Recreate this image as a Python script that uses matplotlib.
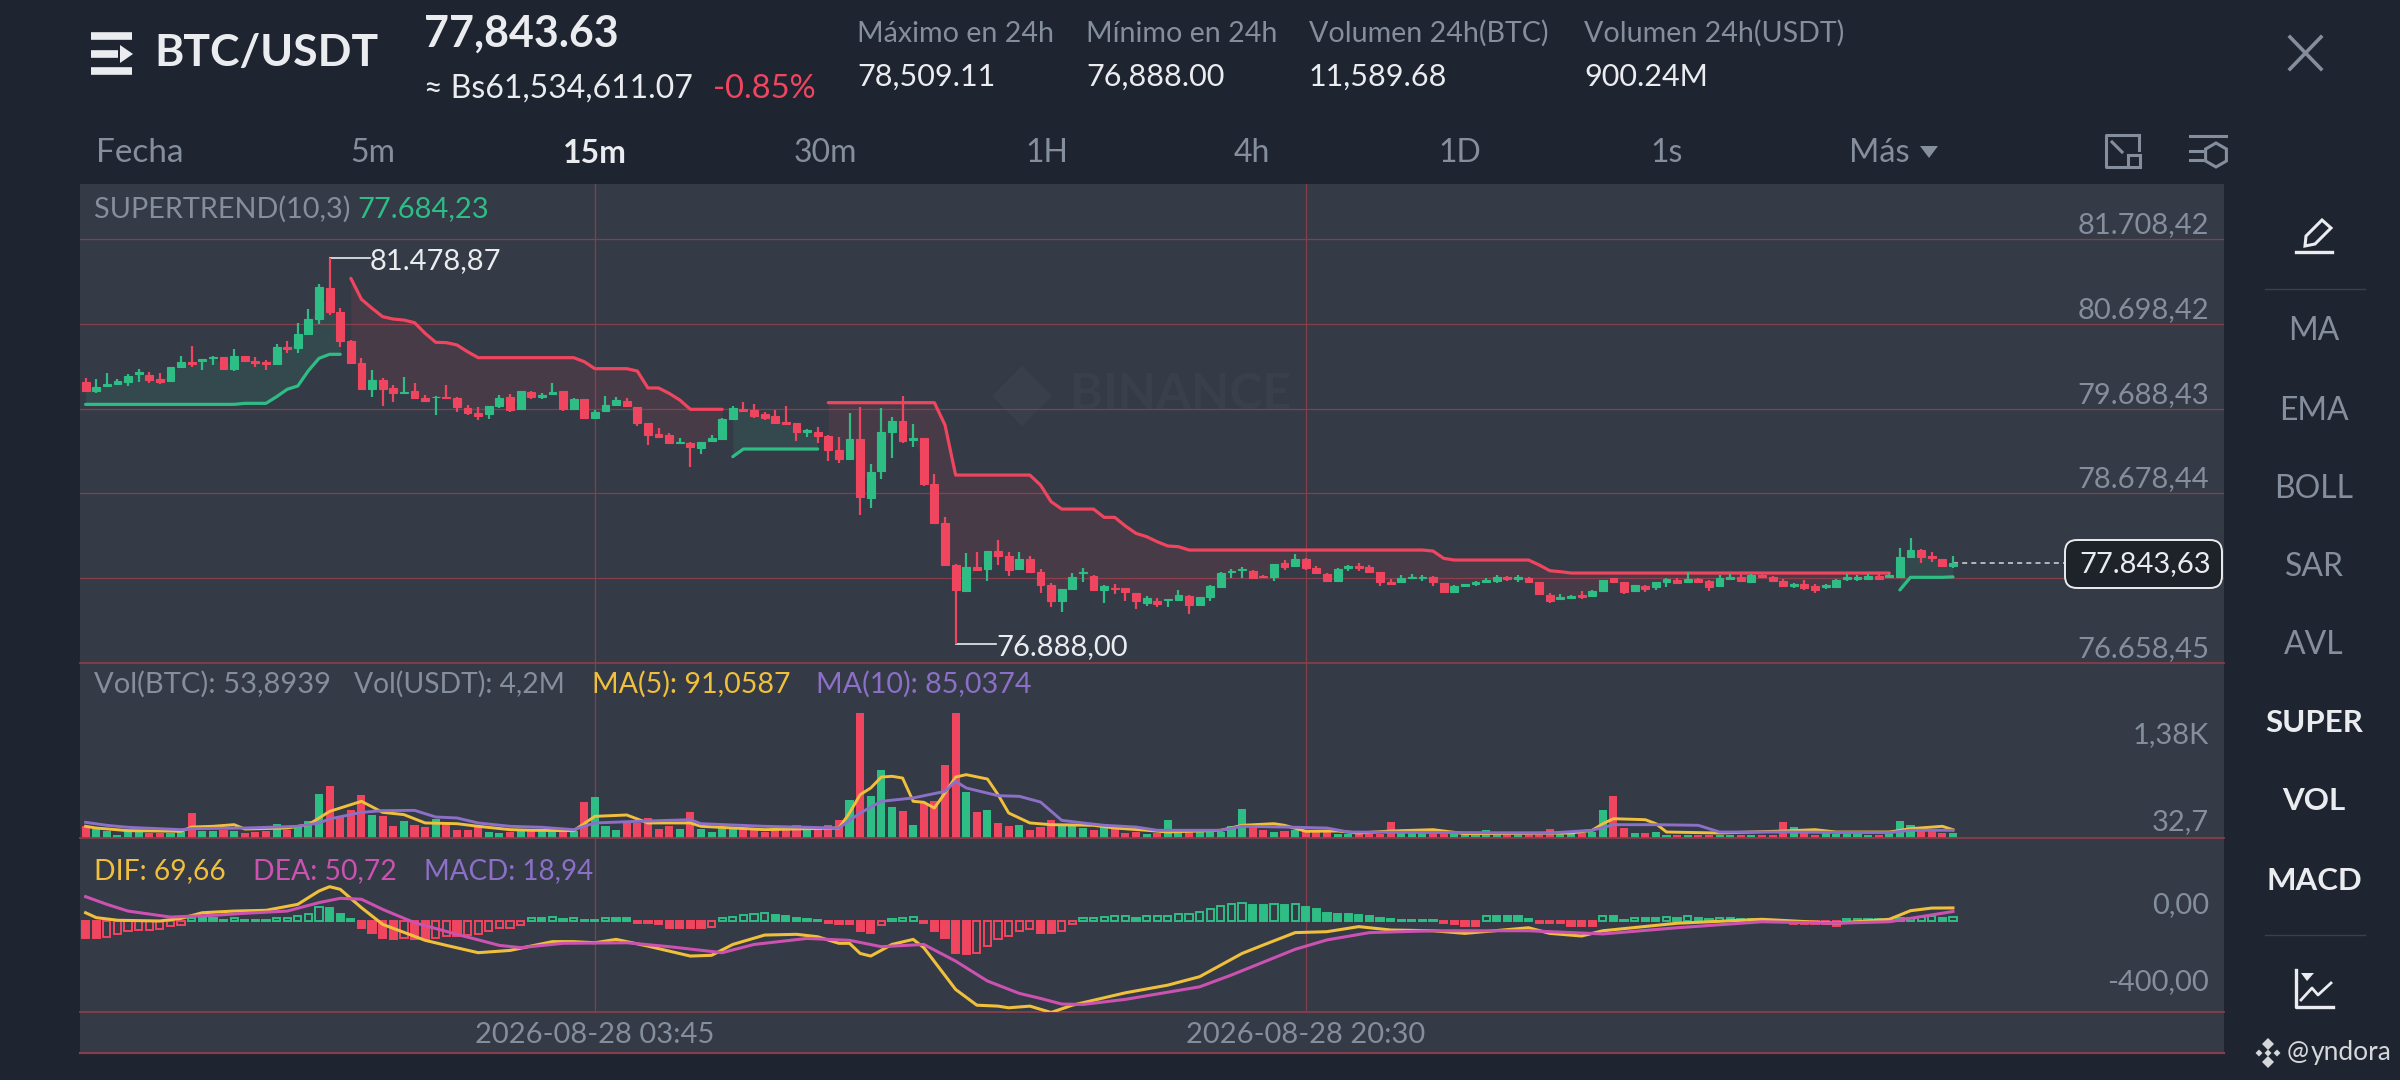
import matplotlib
matplotlib.use("Agg")
import matplotlib.pyplot as plt
from matplotlib.patches import Rectangle, FancyBboxPatch, Polygon, RegularPolygon
import numpy as np

plt.rcParams['font.family'] = ['Lato', 'DejaVu Sans']

# ---------- data ----------
opens = [80009,79902,79958,79981,80009,80100,80089,80041,80013,80184,
80243,80255,80287,80299,80160,80315,80255,80243,80220,80426,
80406,80577,80752,81129,80839,80493,80235,79918,80029,79930,
79870,79898,79811,79823,79830,79811,79692,79632,79620,79719,
79823,79680,79890,79823,79862,79902,79680,79803,79576,79660,
79731,79779,79711,79513,79386,79374,79275,79283,79215,79303,
79326,79565,79684,79672,79624,79600,79533,79513,79414,79414,
79362,79195,79084,79322,78627,78945,79413,79540,79314,79334,
78786,78322,77821,77520,77798,77782,77992,77937,77778,77901,
77738,77587,77401,77544,77726,77694,77528,77555,77547,77496,
77369,77401,77409,77409,77460,77349,77440,77563,77746,77766,
77758,77698,77687,77853,77814,77893,77786,77718,77631,77786,
77818,77798,77738,77627,77619,77671,77675,77679,77615,77508,
77579,77599,77627,77639,77687,77655,77671,77619,77468,77417,
77436,77468,77456,77516,77667,77619,77516,77579,77560,77627,
77647,77627,77659,77639,77576,77663,77687,77627,77707,77687,
77635,77579,77595,77576,77560,77568,77655,77659,77659,77695,
77679,77687,77917,78004,77933,77893,77818]
highs = [80049,80041,80116,80041,80096,80156,80128,80116,80180,80315,
80434,80279,80315,80307,80394,80319,80307,80267,80458,80493,
80704,80871,81172,81478.87,80883,80505,80287,80148,80049,79969,
80061,79989,79850,79838,79969,79830,79731,79711,79723,79850,
79862,79898,79898,79870,79997,79902,79811,79803,79672,79838,
79830,79811,79711,79513,79453,79394,79334,79295,79295,79374,
79572,79719,79763,79743,79652,79672,79723,79521,79441,79465,
79374,79354,79632,79703,79028,79691,79592,79838,79505,79334,
78905,78393,77837,77964,77984,77992,78123,77984,77984,77933,
77778,77615,77544,77726,77786,77706,77587,77595,77555,77496,
77456,77428,77420,77528,77468,77440,77587,77742,77774,77806,
77766,77706,77837,77885,77952,77905,77814,77726,77786,77829,
77845,77825,77738,77659,77706,77714,77706,77694,77615,77587,
77599,77639,77667,77706,77694,77706,77679,77627,77496,77476,
77468,77520,77528,77647,77667,77627,77587,77587,77627,77675,
77667,77746,77667,77647,77707,77714,77714,77714,77714,77695,
77659,77607,77647,77599,77595,77659,77714,77707,77714,77714,
77726,78024,78143,78012,77984,77901,77933]
lows = [79882,79878,79958,79969,79962,80009,79989,79981,80005,80180,
80180,80148,80204,80148,80132,80243,80188,80148,80208,80355,
80347,80565,80696,80803,80426,80228,79910,79823,79719,79771,
79870,79807,79775,79608,79811,79652,79612,79553,79568,79696,
79652,79680,79799,79799,79850,79660,79672,79568,79568,79652,
79723,79711,79481,79255,79334,79267,79267,78997,79148,79295,
79314,79553,79652,79572,79553,79505,79493,79306,79346,79275,
79068,79036,79076,78421,78500,78846,79096,79282,79235,78766,
78310,77814,76888,77508,77758,77639,77825,77694,77774,77734,
77496,77329,77262,77528,77627,77528,77369,77476,77401,77305,
77337,77321,77321,77409,77242,77337,77397,77559,77675,77671,
77663,77667,77631,77766,77806,77766,77726,77623,77623,77758,
77758,77738,77575,77587,77615,77663,77631,77579,77500,77500,
77579,77579,77615,77615,77639,77627,77607,77468,77369,77409,
77424,77424,77440,77508,77615,77476,77508,77500,77528,77560,
77595,77615,77619,77516,77568,77655,77623,77623,77667,77631,
77560,77548,77528,77496,77544,77556,77635,77635,77655,77651,
77667,77687,77917,77853,77857,77798,77794]
closes = [79902,79950,79981,80013,80081,80120,80029,80009,80180,80247,
80216,80279,80299,80156,80319,80255,80235,80220,80426,80394,
80573,80752,81133,80835,80493,80235,79918,80029,79918,79870,
79890,79815,79783,79830,79811,79703,79640,79600,79723,79811,
79672,79898,79830,79850,79882,79680,79799,79576,79652,79731,
79791,79719,79513,79374,79354,79275,79295,79227,79295,79334,
79561,79692,79660,79600,79580,79521,79501,79414,79434,79362,
79195,79084,79322,78631,78937,79406,79540,79302,79334,78786,
78322,77821,77528,77798,77766,77992,77937,77766,77901,77738,
77587,77401,77544,77679,77746,77528,77575,77536,77508,77401,
77428,77357,77420,77468,77349,77440,77575,77734,77758,77782,
77667,77679,77833,77806,77897,77786,77734,77631,77778,77814,
77786,77746,77627,77599,77675,77687,77687,77619,77508,77575,
77599,77627,77647,77687,77655,77687,77619,77480,77401,77448,
77460,77440,77516,77647,77627,77508,77583,77536,77627,77655,
77607,77655,77627,77568,77667,77687,77631,77707,77687,77635,
77576,77599,77548,77528,77587,77647,77683,77679,77691,77659,
77703,77917,78004,77917,77905,77814,77843.63]
supertrend = [79739,79739,79739,79739,79739,79739,79739,79739,79739,79739,
79739,79739,79739,79739,79739,79751,79751,79751,79830,79918,
79958,80140,80287,80335,80335,81240,80990,80883,80783,80755,
80743,80712,80585,80478,80474,80446,80366,80295,80295,80295,
80295,80295,80295,80295,80295,80295,80295,80247,80164,80164,
80164,80164,80136,79934,79934,79870,79791,79680,79680,79680,
79680,79116,79207,79207,79207,79207,79207,79207,79207,79207,
79759,79759,79759,79759,79759,79759,79759,79759,79759,79759,
79759,79493,78897,78897,78897,78897,78897,78897,78897,78897,
78778,78580,78492,78492,78492,78492,78393,78393,78290,78203,
78163,78103,78052,78044,78004,78004,78004,78004,78004,78004,
78004,78004,78004,78004,78004,78004,78004,78004,78004,78004,
78004,78004,78004,78004,78004,78004,78004,77992,77905,77885,
77885,77885,77885,77885,77885,77885,77885,77826,77758,77746,
77730,77730,77730,77730,77730,77730,77730,77730,77730,77730,
77730,77730,77730,77730,77730,77730,77730,77730,77730,77730,
77730,77730,77730,77730,77730,77730,77730,77730,77730,77730,
77730,77528,77679,77679,77679,77679,77684.23]
trend_up_runs = [(0, 24), (61, 69), (171, 176)]
trend_down_runs = [(25, 60), (70, 170)]
volumes = [136,103,81,37,74,66,55,55,55,63,
276,81,81,92,74,55,63,81,155,92,
129,184,482,578,239,313,471,258,239,129,
184,147,118,210,166,85,92,129,66,55,
66,85,74,74,92,110,74,397,449,129,
85,166,166,221,103,136,103,287,103,66,
121,121,99,92,63,85,92,147,92,110,
147,202,423,1380,467,754,346,294,147,386,
405,806,1380,504,287,305,166,129,147,92,
121,202,129,129,114,92,140,110,59,66,
40,55,195,55,77,66,66,66,129,324,
110,85,66,77,85,66,66,66,40,48,
48,48,48,177,66,66,66,66,48,40,
40,48,92,40,40,48,40,48,96,55,
55,55,66,305,464,110,55,55,66,37,
37,37,37,37,37,37,37,37,37,37,
177,121,66,37,55,44,44,44,37,37,
55,191,140,103,81,59,53.89]
ma5_idx = [0,1,4,9,10,12,14,15,19,21,23,24,26,28,30,32,35,37,40,42,46,48,51,53,57,58,64,71,72,73,74,75,76,77,78,79,80,81,82,83,85,86,87,89,91,95,97,100,102,107,109,112,113,115,118,120,123,127,130,140,142,143,144,147,148,149,154,160,163,165,170,172,175,176]
ma5_val = [129,110,81,74,121,129,147,99,110,147,294,331,405,283,258,166,158,129,92,85,81,239,254,166,166,129,92,110,276,478,552,673,681,662,405,394,331,497,673,699,651,478,276,166,147,140,110,85,66,85,140,158,140,74,77,55,77,92,48,55,85,158,213,202,158,66,55,77,92,66,66,103,129,91.06]
ma10_idx = [0,2,4,9,10,15,20,22,23,26,28,31,33,35,37,40,43,46,48,52,57,58,64,71,73,75,78,81,82,83,86,88,90,92,94,96,99,101,107,109,113,117,119,138,142,144,148,152,154,160,170,172,176]
ma10_val = [173,140,118,92,103,110,129,166,210,283,302,305,232,221,166,129,118,92,166,184,202,158,129,110,276,405,442,515,626,552,467,460,397,195,166,140,121,85,85,129,121,110,66,55,85,147,147,140,66,66,59,85,85.04]
macd_hist = [-89,-89,-84,-71,-53,-50,-46,-43,-27,-21,
14,14,14,5,14,5,5,5,14,18,
27,39,75,71,39,9,-39,-62,-89,-98,
-93,-98,-98,-89,-80,-80,-75,-68,-53,-39,
-36,-21,18,18,21,9,14,7,4,16,
16,16,-11,-11,-18,-36,-36,-39,-39,-32,
14,21,30,39,45,32,27,14,9,5,
-9,-14,-18,-53,-62,-21,9,14,21,-9,
-53,-89,-169,-178,-169,-134,-98,-80,-53,-45,
-62,-62,-53,-18,14,18,21,27,28,18,
25,27,28,36,39,50,62,80,93,98,
85,85,89,84,89,75,62,45,39,39,
32,27,14,9,5,5,5,5,-11,-14,
-25,-25,25,25,25,25,11,-11,-11,-11,
-25,-25,-25,25,25,7,18,18,18,21,
18,25,14,9,14,14,9,9,9,5,
-5,-18,-14,-14,-18,-25,11,11,11,11,
11,14,18,21,25,18,18.94]
dif_idx = [0,1,3,7,9,11,14,17,20,22,23,24,26,28,32,34,37,40,44,46,48,50,53,57,59,61,64,67,69,71,72,73,74,76,78,79,82,84,86,87,89,91,93,98,102,105,109,111,114,117,120,123,127,130,136,138,141,143,150,158,165,170,172,174,176]
dif_val = [44,18,4,0,14,44,53,57,89,160,183,169,71,-18,-103,-130,-169,-157,-110,-110,-116,-98,-134,-187,-183,-125,-75,-71,-84,-119,-119,-173,-187,-125,-98,-142,-365,-449,-454,-463,-454,-488,-449,-383,-342,-297,-173,-128,-62,-57,-30,-48,-52,-66,-36,-66,-80,-52,-12,9,-12,9,55,69,69.66]
dea_idx = [0,2,4,8,12,15,19,22,24,26,28,31,35,39,41,45,51,55,60,63,68,72,75,79,82,85,88,90,92,94,98,105,108,114,117,121,127,136,143,150,158,165,170,176]
dea_val = [130,89,53,21,30,41,53,98,121,116,62,-9,-71,-130,-142,-119,-116,-137,-169,-125,-93,-103,-137,-125,-214,-320,-386,-413,-443,-445,-418,-351,-288,-151,-101,-62,-52,-52,-69,-36,-4,-12,-4,50.72]
price_ticks = [81708.42, 80698.42, 79688.43, 78678.44, 77668.45, 76658.45]
price_labels = ['81.708,42', '80.698,42', '79.688,43', '78.678,44', None, '76.658,45']
last_price = 77843.63
time_ticks = [48, 115]
time_labels = ['2026-08-28 03:45', '2026-08-28 20:30']
periods = ['5m', '15m', '30m', '1H', '4h', '1D', '1s']
indicators = ['MA', 'EMA', 'BOLL', 'SAR', 'AVL', 'SUPER', 'VOL', 'MACD']

# ---------- style ----------
BG = '#1e2430'; PANEL = '#343a46'; GRID = '#853e4a'; GREY = '#848e9c'; WHITE = '#eaecef'
GREEN = '#2ebd85'; RED = '#f0455f'; YELLOW = '#f0c03c'; PURPLE = '#8c6fc6'; MAGENTA = '#cb52b0'

W, H = 2400, 1080
fig = plt.figure(figsize=(24, 10.8), dpi=100, facecolor=BG)

bg = fig.add_axes([0, 0, 1, 1], zorder=0)
bg.set_xlim(0, W); bg.set_ylim(H, 0); bg.axis('off')

PL, PR = 80, 2224
bg.add_patch(Rectangle((PL, 184), PR - PL, 1053 - 184, fc=PANEL, ec='none'))
bg.plot([PL, PR], [1053, 1053], color=GRID, lw=1.6)

def panel(top, bottom):
    ax = fig.add_axes([PL / W, 1 - bottom / H, (PR - PL) / W, (bottom - top) / H], zorder=2)
    ax.patch.set_alpha(0)
    for s in ax.spines.values():
        s.set_visible(False)
    ax.spines['bottom'].set_visible(True)
    ax.spines['bottom'].set_color(GRID)
    ax.spines['bottom'].set_linewidth(1.3)
    ax.set_xlim((PL - 85.6) / 10.61, (PR - 85.6) / 10.61)
    ax.set_yticks([])
    ax.set_xticks(time_ticks)
    ax.tick_params(axis='x', length=0, labelbottom=False)
    ax.grid(axis='x', color=GRID, lw=0.9)
    ax.set_axisbelow(True)
    return ax

x = np.arange(len(closes))
o, hi, lo, c = map(np.array, (opens, highs, lows, closes))
up = c >= o
cols = np.where(up, GREEN, RED)

# ---------- price ----------
ax = panel(184, 663)
ax.set_ylim(76658.45, 81708.42 + 55 * 1009.99 / 84.8)
ax.set_yticks(price_ticks)
ax.tick_params(axis='y', length=0, labelleft=False)
ax.grid(axis='y', color=GRID, lw=0.9)
for v, t in zip(price_ticks, price_labels):
    if t:
        ax.annotate(t, xy=(1, v), xycoords=('axes fraction', 'data'), xytext=(-15, 1),
                    textcoords='offset pixels', ha='right', va='bottom', color=GREY, fontsize=21)
st = np.array(supertrend)
mid = (o + c) / 2
for a, b in trend_up_runs:
    ax.fill_between(x[a:b + 1], st[a:b + 1], mid[a:b + 1], color=GREEN, alpha=0.12, lw=0)
    ax.plot(x[a:b + 1], st[a:b + 1], color=GREEN, lw=2.3, solid_capstyle='round')
for a, b in trend_down_runs:
    ax.fill_between(x[a:b + 1], st[a:b + 1], mid[a:b + 1], color=RED, alpha=0.11, lw=0)
    ax.plot(x[a:b + 1], st[a:b + 1], color=RED, lw=2.3, solid_capstyle='round')
ax.vlines(x, lo, hi, colors=cols, lw=1.6, zorder=3)
ax.bar(x, np.abs(c - o), bottom=np.minimum(o, c), width=0.74, color=cols, zorder=3, lw=0.8, edgecolor=cols)
hi_i = int(np.argmax(hi)); lo_i = int(np.argmin(lo))
ax.plot([hi_i, hi_i + 3.8], [hi[hi_i], hi[hi_i]], color=WHITE, lw=1.2)
ax.plot([lo_i, lo_i + 3.8], [lo[lo_i], lo[lo_i]], color=WHITE, lw=1.2)
ax.annotate('81.478,87', xy=(hi_i + 3.8, hi[hi_i]), xytext=(0, -3), textcoords='offset pixels',
            color=WHITE, fontsize=21, va='center', ha='left')
ax.annotate('76.888,00', xy=(lo_i + 3.8, lo[lo_i]), xytext=(0, -3), textcoords='offset pixels',
            color=WHITE, fontsize=21, va='center', ha='left')
ax.plot([x[-1], (2065 - 85.6) / 10.61], [last_price, last_price], color='#c9ccd1', lw=1.2, ls=(0, (3, 2.5)))

# ---------- volume ----------
axv = panel(663, 838)
axv.set_ylim(0, 175 / 0.0906)
v = np.array(volumes)
axv.bar(x, v, width=0.76, color=cols, lw=0, zorder=2)
axv.plot(ma5_idx, ma5_val, color=YELLOW, lw=2.1, zorder=3)
axv.plot(ma10_idx, ma10_val, color=PURPLE, lw=2.1, zorder=3)

# ---------- macd ----------
axm = panel(838, 1012)
axm.set_ylim((921 - 1012) / 0.1875, (921 - 838) / 0.1875)
h = np.array(macd_hist)
prev = np.r_[h[0] + 1, h[:-1]]
rising = h > prev
hcols = np.where(h >= 0, GREEN, RED)
fills = [('none' if r else col) for r, col in zip(rising, hcols)]
axm.bar(x, h, width=0.68, facecolor=fills, edgecolor=hcols, lw=1.4, zorder=2)
axm.plot(dif_idx, dif_val, color=YELLOW, lw=2.2, zorder=3)
axm.plot(dea_idx, dea_val, color=MAGENTA, lw=2.2, zorder=3)
axm.set_xticks(time_ticks, time_labels)
axm.tick_params(axis='x', labelbottom=True, colors=GREY, labelsize=21, pad=7)

# ---------- overlays in pixel coords ----------
top = fig.add_axes([0, 0, 1, 1], zorder=5)
top.set_xlim(0, W); top.set_ylim(H, 0); top.axis('off')
top.patch.set_alpha(0)

def T(px, py, s, color=GREY, size=21, ha='left', weight='normal', a=top):
    a.text(px, py + 2.5, s, color=color, fontsize=size, ha=ha, va='center', fontweight=weight)

# watermark
T(1070, 392, 'BINANCE', color='#393f4b', size=36, weight='bold', a=bg)
bg.add_patch(RegularPolygon((1022, 396), 4, radius=30, fc='#393f4b', ec='none'))

# indicator legends
T(94, 207, 'SUPERTREND(10,3)', size=20.8)
T(357, 207, '77.684,23', color=GREEN, size=21)
T(94, 682, 'Vol(BTC): 53,8939', size=21)
T(354, 682, 'Vol(USDT): 4,2M', size=20.3)
T(592, 682, 'MA(5): 91,0587', color=YELLOW, size=20.6)
T(816, 682, 'MA(10): 85,0374', color=PURPLE, size=20.7)
T(94, 869, 'DIF: 69,66', color=YELLOW, size=20.3)
T(253, 869, 'DEA: 50,72', color=MAGENTA, size=20.4)
T(424, 869, 'MACD: 18,94', color=PURPLE, size=20)
T(2209, 733, '1,38K', ha='right')
T(2209, 820, '32,7', ha='right')
T(2209, 903, '0,00', ha='right')
T(2209, 980, '-400,00', ha='right')

# last price box
top.add_patch(FancyBboxPatch((2071, 546), 145, 36, boxstyle='round,pad=6,rounding_size=12', fc='#1e2329', ec=WHITE, lw=1.4))
T(2145, 562, '77.843,63', color=WHITE, ha='center', size=21)

# header
T(154, 51, 'BTC/USDT', color=WHITE, size=32, weight='bold')
T(424, 31, '77,843.63', color=WHITE, size=31, weight='bold')
T(424, 86, '≈ Bs61,534,611.07', color=WHITE, size=23)
T(713, 86, '-0.85%', color=RED, size=23.5)
for px, lab, val in [(857, 'Máximo en 24h', '78,509.11'), (1086, 'Mínimo en 24h', '76,888.00'),
                     (1309, 'Volumen 24h(BTC)', '11,589.68'), (1584, 'Volumen 24h(USDT)', '900.24M')]:
    T(px, 31, lab, size=20.6)
    T(px, 74, val, color=WHITE, size=22)
for yy, x0, x1 in [(36, 91, 132), (54, 91, 118), (71, 91, 132)]:
    top.plot([x0, x1], [yy, yy], color=WHITE, lw=5.5, solid_capstyle='butt')
top.add_patch(Polygon([[120, 45], [133, 54], [120, 63]], fc=WHITE, ec='none'))

# tabs
T(96, 151, 'Fecha', size=24)
for px, s in zip([373, 595, 825, 1047, 1252, 1460, 1667], periods):
    sel = s == '15m'
    T(px, 151, s, color=WHITE if sel else GREY, size=23, ha='center', weight='bold' if sel else 'normal')
T(1849, 151, 'Más', size=23.5)
top.add_patch(Polygon([[1920, 146], [1938, 146], [1929, 158]], fc=GREY, ec='none'))
# icons
top.plot([2139, 2139], [135, 150], color=GREY, lw=2.2)
top.plot([2139, 2106, 2106, 2125], [135, 135, 167, 167], color=GREY, lw=2.2)
top.add_patch(Rectangle((2128, 155), 12, 12, fc='none', ec=GREY, lw=2.2))
top.plot([2112, 2122], [142, 152], color=GREY, lw=2.2)
top.plot([2190, 2226], [136, 136], color=GREY, lw=2.2)
top.plot([2190, 2202], [151, 151], color=GREY, lw=2.2)
top.plot([2190, 2202], [160, 160], color=GREY, lw=2.2)
top.add_patch(RegularPolygon((2216, 155), 6, radius=12, fc='none', ec=GREY, lw=2.2))
top.plot([2290, 2321], [37, 69], color=GREY, lw=2.6)
top.plot([2321, 2290], [37, 69], color=GREY, lw=2.6)

# right menu
for py, s in zip([329, 408, 486, 564, 642, 720, 799, 879], indicators):
    on = s in ('SUPER', 'VOL', 'MACD')
    T(2314, py, s, color=WHITE if on else GREY, size=23 if not on else 22.5, ha='center', weight='bold' if on else 'normal')
for py in (289, 935):
    top.plot([2265, 2365], [py, py], color='#3a404c', lw=1)
# pen
top.plot([2296, 2332], [252, 252], color=WHITE, lw=2.4)
top.add_patch(Polygon([[2305, 246], [2306, 236], [2322, 220], [2331, 228], [2315, 244]], fc='none', ec=WHITE, lw=2.2))
# chart icon
top.plot([2296, 2296, 2333], [970, 1007, 1007], color=WHITE, lw=2.4)
top.plot([2301, 2312, 2318, 2331], [1000, 988, 995, 983], color=WHITE, lw=2)
top.add_patch(Polygon([[2301, 973], [2314, 973], [2307, 981]], fc=WHITE, ec='none'))
# attribution bottom right
for dx, dy, r in [(0, -9, 6), (-9, 0, 3.5), (9, 0, 3.5), (0, 0, 3.5), (0, 9, 6)]:
    top.add_patch(RegularPolygon((2268 + dx, 1053 + dy), 4, radius=r, fc='#d5d7da', ec='none'))
T(2287, 1050, '@', color='#d5d7da', size=19)
T(2311, 1050, 'yndora', color='#d5d7da', size=19)

fig.savefig('out.png', dpi=100, facecolor=BG)
